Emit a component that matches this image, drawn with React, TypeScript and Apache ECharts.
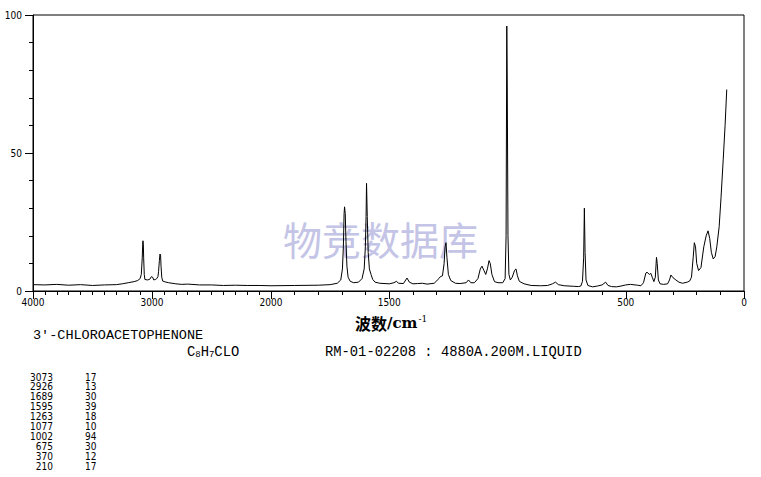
import React, { useEffect, useRef } from "react";
import * as echarts from "echarts";

// Spectrum (Raman shift, cm-1) and relative intensity
const wavenumbers = [
  4000, 3900, 3800, 3700, 3600, 3500, 3400, 3300, 3250, 3200, 3150, 3120, 3100, 3090, 3082, 3078, 3076, 3073, 3070, 3065,
  3060, 3040, 3020, 3005, 2995, 2985, 2970, 2960, 2950, 2945, 2938, 2933, 2928, 2924, 2918, 2910, 2890, 2860, 2800, 2750,
  2700, 2600, 2500, 2400, 2300, 2200, 2100, 2000,
  1900, 1800, 1750, 1720, 1705, 1698, 1694, 1691, 1689, 1686, 1683, 1679, 1674, 1665, 1650, 1630, 1615, 1606, 1601, 1598,
  1596, 1593, 1589, 1584, 1577, 1570, 1560, 1540, 1500, 1480, 1470, 1460, 1440, 1425, 1415, 1400, 1380, 1360, 1340, 1310,
  1290, 1284, 1275, 1268, 1264, 1260, 1256, 1250, 1240, 1220, 1200, 1175, 1165, 1155, 1140, 1125, 1115, 1108, 1100, 1092,
  1085, 1078, 1073, 1066, 1055, 1040, 1020, 1010, 1006, 1003, 1001, 998, 994, 988, 980, 970, 964, 958, 950, 930,
  900, 860, 830, 810, 797, 785, 760, 720, 700, 690, 683, 678, 675, 672, 668, 660, 640, 620, 600, 585,
  575, 560, 540, 520, 500, 480, 450, 436, 425, 415, 410, 400, 394, 388, 381, 375, 370, 367, 362, 355,
  340, 323, 315, 309, 300, 288, 275, 260, 240, 230, 222, 215, 210, 205, 200, 192, 182, 170, 160, 152,
  145, 138, 130, 122, 115, 105, 97, 88, 80, 73,
];
const intensities = [
  2.3, 2.2, 2.4, 2.1, 2.3, 2.0, 2.2, 2.3, 2.6, 3.0, 3.4, 3.8, 4.5, 6, 12, 17, 18.2, 17, 12, 6,
  4.2, 4.0, 4.2, 5.2, 5.0, 4.0, 4.2, 4.5, 5.2, 7, 11, 13.4, 13, 9, 5, 3.6, 3.3, 3.0, 2.6, 2.4,
  2.5, 2.2, 2.2, 2.0, 2.1, 2.0, 2.0, 1.9,
  2.0, 2.1, 2.3, 2.8, 4, 8, 16, 28, 30.5, 28, 18, 9, 5, 3.5, 3.0, 3.2, 4.5, 8, 16, 27,
  39, 27, 14, 8, 6, 4.2, 3.2, 2.8, 2.6, 3.0, 3.5, 2.8, 2.7, 4.7, 3.2, 2.6, 2.7, 2.8, 2.5, 2.8,
  4.5, 5.2, 5.5, 10, 16, 17.5, 12, 6, 3.8, 2.8, 2.7, 3.0, 4.0, 3.0, 3.0, 4.5, 8, 9, 7.5, 6,
  8, 11, 10, 6, 3.4, 3.0, 3.0, 4.5, 20, 96, 75, 20, 6, 4, 5, 7.5, 8, 5.5, 3.5, 2.6,
  2.0, 1.9, 2.0, 2.6, 3.2, 2.3, 1.9, 1.7, 1.6, 1.8, 3.5, 12, 30, 14, 4, 2.0, 1.5, 1.8, 2.2, 3.2,
  2.0, 1.6, 1.5, 1.8, 2.2, 2.4, 2.1, 1.9, 3, 6.5, 6.8, 6.0, 6.4, 5, 3.4, 5, 12.2, 10, 4, 2.6,
  2.4, 2.6, 4, 5.8, 4.8, 4, 3.2, 2.8, 3.2, 3.6, 5, 12, 17.5, 16, 10, 7.4, 8.5, 16, 20, 21.8,
  19, 14, 11.6, 12.5, 16, 23.3, 34, 47.5, 60, 73,
];

// Peak table
const peakWavenumbers = ["3073", "2926", "1689", "1595", "1263", "1077", "1002", "675", "370", "210"];
const peakIntensities = ["17", "13", "30", "39", "18", "10", "94", "30", "12", "17"];

// Axis labels / major ticks
const highTickLabels = [4000, 3000];
const lowTickLabels = [2000, 1500, 500, 0];
const highMajorTicks = [4000, 3000, 2000];
const lowMajorTicks = [2000, 1500, 500, 0];
const yTickLabels = [0, 50, 100];

const compoundName = "3'-CHLOROACETOPHENONE";
const sampleInfo = "RM-01-02208 : 4880A.200M.LIQUID";
const watermark = "物竞数据库";

const tickFont = "'Liberation Sans Narrow', 'DejaVu Sans Condensed', sans-serif";
const monoFont = "'Liberation Mono', 'DejaVu Sans Mono', monospace";

export default function App() {
  const ref = useRef<HTMLDivElement>(null);

  useEffect(() => {
    if (!ref.current) return;
    const chart = echarts.init(ref.current, undefined, { renderer: "svg" });

    const pairs = wavenumbers.map((w, i) => [w, intensities[i]]);
    const highData = pairs.filter((p) => p[0] >= 2000);
    const lowData = pairs.filter((p) => p[0] <= 2000);

    const axisLine = { show: true, onZero: false, lineStyle: { color: "#000", width: 1 } };
    const noLine = { show: false, onZero: false };
    const label = { color: "#000", fontFamily: tickFont, fontSize: 10 };
    const minorTick = { show: true, length: 4, lineStyle: { color: "#000", width: 1 } };
    const majorTick = { show: true, inside: true, length: 8, lineStyle: { color: "#000", width: 1 } };
    const off = { show: false };

    const tableGraphics: any[] = [];
    peakWavenumbers.forEach((w, i) => {
      const y = 377 + i * 9.9;
      tableGraphics.push({
        type: "text",
        x: 53,
        y,
        style: { text: w, font: `10px ${tickFont}`, fill: "#000", align: "right", verticalAlign: "middle" },
      });
      tableGraphics.push({
        type: "text",
        x: 85,
        y,
        style: { text: peakIntensities[i], font: `10px ${tickFont}`, fill: "#000", align: "left", verticalAlign: "middle" },
      });
    });

    chart.setOption({
      animation: false,
      backgroundColor: "#fff",
      grid: [
        { left: 33, top: 15, width: 238, height: 276, containLabel: false },
        { left: 271, top: 15, width: 473, height: 276, containLabel: false },
        {
          left: 33,
          top: 15,
          width: 711,
          height: 276,
          containLabel: false,
          show: true,
          borderColor: "#000",
          borderWidth: 1,
          backgroundColor: "transparent",
        },
      ],
      xAxis: [
        // 0: high-wavenumber half-scale region, every-100 ticks + labels
        {
          type: "value",
          gridIndex: 0,
          position: "bottom",
          min: 2000,
          max: 4000,
          inverse: true,
          interval: 100,
          axisLine,
          axisTick: minorTick,
          axisLabel: {
            ...label,
            margin: 6,
            showMinLabel: true,
            showMaxLabel: true,
            formatter: (v: number) => (highTickLabels.includes(v) ? String(v) : ""),
          },
          splitLine: off,
        },
        // 1: low-wavenumber region
        {
          type: "value",
          gridIndex: 1,
          position: "bottom",
          min: 0,
          max: 2000,
          inverse: true,
          interval: 100,
          axisLine,
          axisTick: minorTick,
          axisLabel: {
            ...label,
            margin: 6,
            showMinLabel: true,
            showMaxLabel: true,
            formatter: (v: number) => (lowTickLabels.includes(v) ? String(v) : ""),
          },
          splitLine: off,
        },
        // 2,3: long major ticks, moved onto the bottom edge
        {
          type: "value",
          gridIndex: 0,
          position: "top",
          offset: -276,
          min: 2000,
          max: 4000,
          inverse: true,
          interval: 1000,
          axisLine: noLine,
          axisTick: { ...majorTick, customValues: highMajorTicks },
          axisLabel: off,
          splitLine: off,
        },
        {
          type: "value",
          gridIndex: 1,
          position: "top",
          offset: -276,
          min: 0,
          max: 2000,
          inverse: true,
          interval: 500,
          axisLine: noLine,
          axisTick: { ...majorTick, customValues: lowMajorTicks },
          axisLabel: off,
          splitLine: off,
        },
        // 4: frame grid
        { type: "value", gridIndex: 2, min: 0, max: 1, show: false },
      ],
      yAxis: [
        {
          type: "value",
          gridIndex: 0,
          position: "left",
          min: 0,
          max: 100,
          interval: 10,
          axisLine,
          axisTick: minorTick,
          axisLabel: {
            ...label,
            margin: 11,
            showMinLabel: true,
            showMaxLabel: true,
            formatter: (v: number) => (yTickLabels.includes(v) ? String(v) : ""),
          },
          splitLine: off,
        },
        { type: "value", gridIndex: 1, position: "left", min: 0, max: 100, show: false },
        {
          type: "value",
          gridIndex: 0,
          position: "right",
          offset: -238,
          min: 0,
          max: 100,
          interval: 50,
          axisLine: noLine,
          axisTick: majorTick,
          axisLabel: off,
          splitLine: off,
        },
        { type: "value", gridIndex: 2, min: 0, max: 1, show: false },
      ],
      series: [
        {
          type: "line",
          xAxisIndex: 0,
          yAxisIndex: 0,
          data: highData,
          showSymbol: false,
          symbol: "none",
          lineStyle: { color: "#000", width: 1 },
          z: 3,
        },
        {
          type: "line",
          xAxisIndex: 1,
          yAxisIndex: 1,
          data: lowData,
          showSymbol: false,
          symbol: "none",
          lineStyle: { color: "#000", width: 1 },
          z: 3,
        },
      ],
      graphic: [
        {
          type: "text",
          x: 283,
          y: 238,
          z: 1,
          style: {
            text: watermark,
            font: "39px 'Noto Sans CJK SC', sans-serif",
            fill: "#c4c4e6",
            align: "left",
            verticalAlign: "middle",
          },
        },
        {
          type: "text",
          x: 355,
          y: 323,
          style: {
            text: "{a|波数}{b|/cm}{c|-1}",
            verticalAlign: "middle",
            rich: {
              a: { fontFamily: "'Noto Sans CJK SC', sans-serif", fontWeight: "bold", fontSize: 16, fill: "#000" },
              b: { fontFamily: "'DejaVu Serif', serif", fontWeight: "bold", fontSize: 15, fill: "#000" },
              c: { fontFamily: "'DejaVu Serif', serif", fontSize: 9, fill: "#000", verticalAlign: "top", padding: [0, 0, 8, 1] },
            },
          },
        },
        {
          type: "text",
          x: 33,
          y: 335,
          style: { text: compoundName, font: `13.5px ${monoFont}`, fill: "#000", verticalAlign: "middle" },
        },
        {
          type: "text",
          x: 187,
          y: 352,
          style: {
            text: "{m|C}{s|8}{m|H}{s|7}{m|CLO}",
            verticalAlign: "middle",
            rich: {
              m: { fontFamily: monoFont, fontSize: 13.8, fill: "#000" },
              s: { fontFamily: monoFont, fontSize: 9, fill: "#000", padding: [6, 0, 0, 0] },
            },
          },
        },
        {
          type: "text",
          x: 325,
          y: 352,
          style: { text: sampleInfo, font: `13.8px ${monoFont}`, fill: "#000", verticalAlign: "middle" },
        },
        ...tableGraphics,
      ],
    });

    return () => chart.dispose();
  }, []);

  return (
    <div
      ref={ref}
      style={{ position: "fixed", left: 0, top: 0, width: 761, height: 477, background: "#fff" }}
    />
  );
}
